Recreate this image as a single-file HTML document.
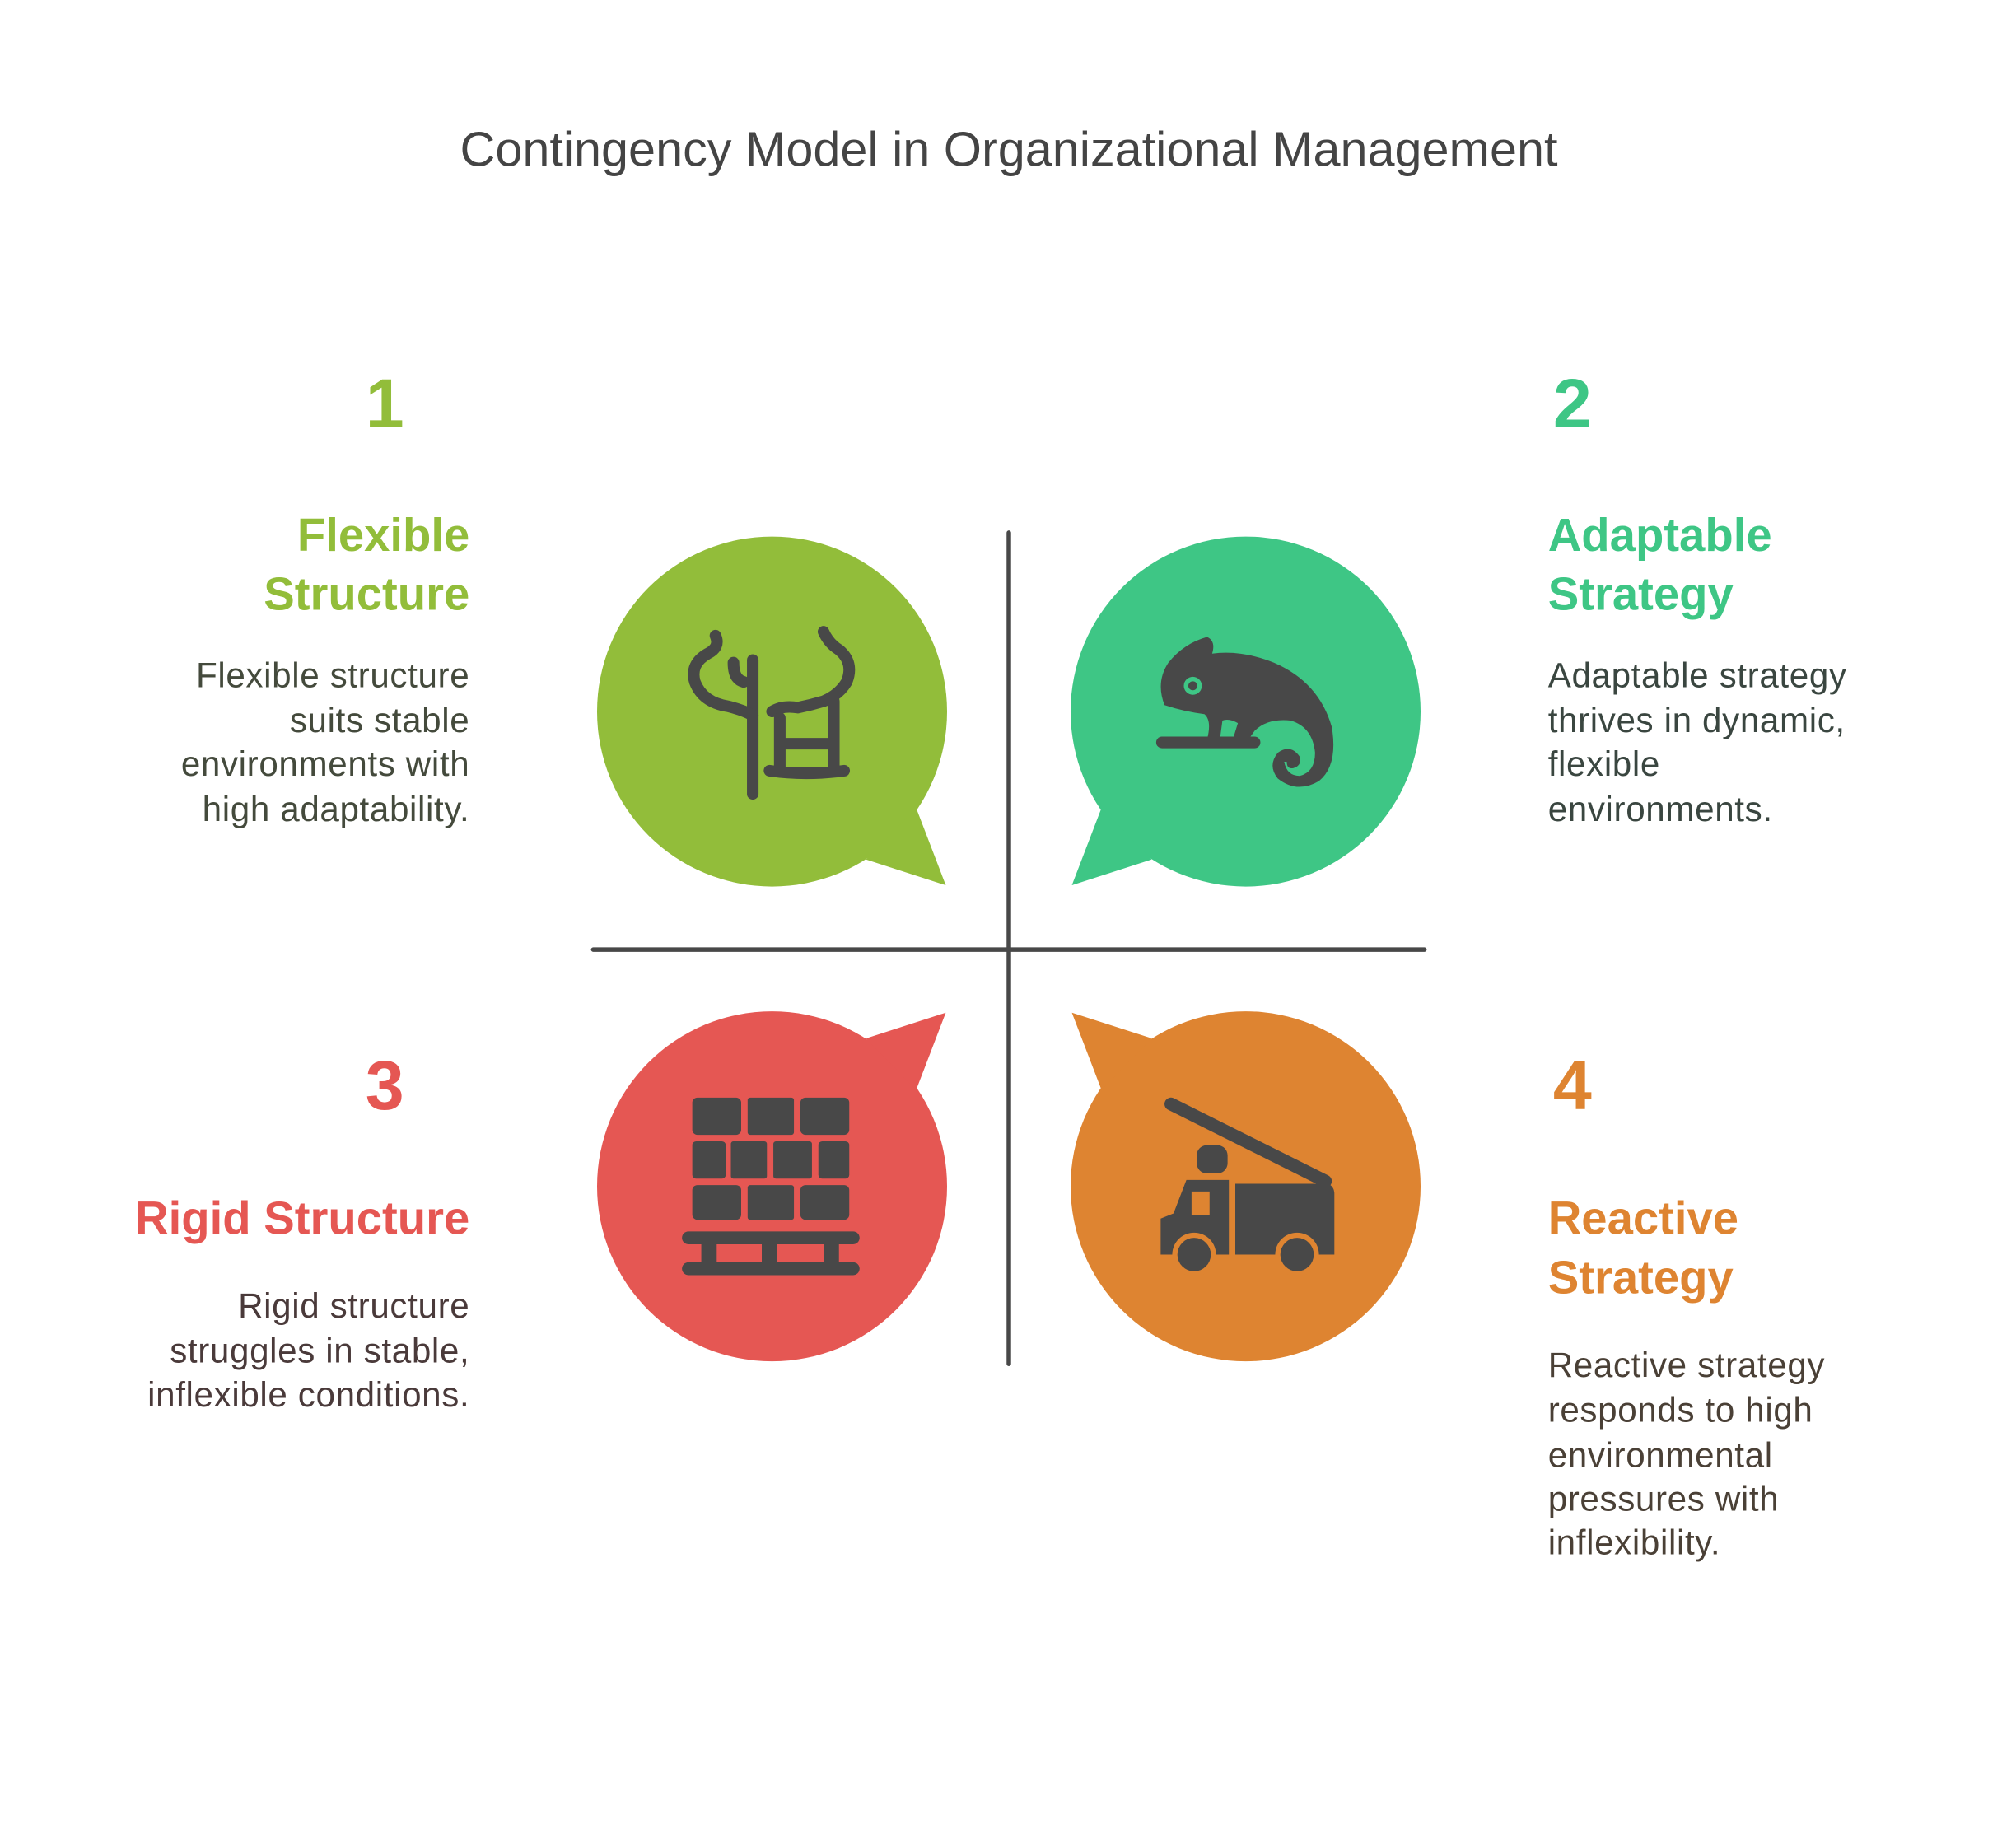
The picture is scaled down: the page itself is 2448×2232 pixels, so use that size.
<!DOCTYPE html>
<html><head><meta charset="utf-8"><style>
html,body{margin:0;padding:0;background:#fff;}
svg{display:block;}
text{font-family:"Liberation Sans",sans-serif;}
</style></head><body>
<svg width="2448" height="2232" viewBox="0 0 1566.72 1428.48" xmlns="http://www.w3.org/2000/svg">
<rect width="1566.72" height="1428.48" fill="#fff"/>
<text x="784" y="129" text-anchor="middle" font-size="38" fill="#444">Contingency Model in Organizational Management</text>

<line x1="784" y1="414" x2="784" y2="1060" stroke="#484848" stroke-width="3.5" stroke-linecap="round"/>
<line x1="461" y1="738" x2="1107" y2="738" stroke="#484848" stroke-width="3.5" stroke-linecap="round"/>

<g fill="#92bd3a"><circle cx="600" cy="553" r="136"/><polygon points="712,628 735,688 673,668"/></g>
<g fill="#3ec685"><circle cx="968" cy="553" r="136"/><polygon points="856,628 833,688 895,668"/></g>
<g fill="#e55753"><circle cx="600" cy="922" r="136"/><polygon points="712,847 735,787 673,807"/></g>
<g fill="#de8431"><circle cx="968" cy="922" r="136"/><polygon points="856,847 833,787 895,807"/></g>

<g stroke="#484848" stroke-width="9" fill="none" stroke-linecap="round" stroke-linejoin="round">
<line x1="585" y1="513" x2="585" y2="617"/>
<path d="M556,494 Q560,503 550,508 Q536,516 540,530 Q546,546 566,549 Q578,552 585,556"/>
<path d="M570,515 Q570,528 578,530"/>
<path d="M640,491 Q644,500 652,505 Q664,515 658,530 Q652,540 640,545 Q630,548 620,550 Q608,548 600,553"/>
<path d="M606,558 L606,598 M648,545 L648,598 M606,578 L645,578"/>
<path d="M598,599 Q626,603 656,599"/>
</g>

<g fill="#484848">
<path d="M905,548 Q898,530 908,515 Q920,500 938,495 Q945,498 942,508 Q965,505 990,515 Q1025,530 1035,565 Q1040,595 1025,607 Q1008,617 993,605 Q985,595 993,585 Q1003,578 1010,588 Q1012,595 1005,597 Q1000,598 1000,592 L998,592 Q1000,603 1010,603 Q1022,600 1022,585 Q1020,565 1003,560 Q985,558 975,568 L970,575 L958,575 L962,562 Q955,558 950,560 L948,575 L938,575 Q942,560 936,555 Q920,553 905,548Z"/>
<line x1="903" y1="577" x2="975" y2="577" stroke="#484848" stroke-width="9" stroke-linecap="round"/>
<circle cx="927" cy="533" r="11"/>
<circle cx="927" cy="533" r="7" fill="#3ec685"/>
<circle cx="927" cy="533" r="3.5" fill="#484848"/>
</g>

<g fill="#484848">
<rect x="538" y="853" width="38" height="29" rx="4"/><rect x="581" y="853" width="36" height="29" rx="2"/><rect x="622" y="853" width="38" height="29" rx="4"/>
<rect x="538" y="887" width="26" height="29" rx="3"/><rect x="568" y="887" width="28" height="29" rx="2"/><rect x="601" y="887" width="30" height="29" rx="2"/><rect x="636" y="887" width="24" height="29" rx="3"/>
<rect x="538" y="921" width="38" height="27" rx="4"/><rect x="581" y="921" width="36" height="27" rx="2"/><rect x="622" y="921" width="38" height="27" rx="4"/>
<rect x="530" y="957" width="138" height="10" rx="5"/><rect x="530" y="981" width="138" height="10" rx="5"/>
<rect x="545" y="965" width="12" height="18"/><rect x="592" y="965" width="12" height="18"/><rect x="640" y="965" width="12" height="18"/>
</g>

<g fill="#484848">
<line x1="910" y1="858" x2="1030" y2="918" stroke="#484848" stroke-width="10" stroke-linecap="round"/>
<rect x="930" y="890" width="24" height="22" rx="8"/>
<path d="M960,920 L1032,920 Q1037,922 1037,928 L1037,975 L960,975Z"/>
<path d="M902,947 L912,943 L922,917 L955,917 L955,975 L902,975Z"/>
<rect x="926" y="926" width="14" height="18" fill="#de8431"/>
<circle cx="928" cy="975" r="17" fill="#de8431"/><circle cx="928" cy="975" r="13"/>
<circle cx="1008" cy="975" r="17" fill="#de8431"/><circle cx="1008" cy="975" r="13"/>
</g>

<g text-anchor="end">
<text x="299" y="332" text-anchor="middle" font-size="54" font-weight="bold" fill="#92bd3a">1</text>
<text x="365" y="428" font-size="36" font-weight="bold" fill="#92bd3a">Flexible</text>
<text x="365" y="474" font-size="36" font-weight="bold" fill="#92bd3a">Structure</text>
<g font-size="27" letter-spacing="0.4" fill="#444a3c">
<text x="365" y="534">Flexible structure</text>
<text x="365" y="569">suits stable</text>
<text x="365" y="603">environments with</text>
<text x="365" y="638">high adaptability.</text>
</g>
<text x="299" y="862" text-anchor="middle" font-size="54" font-weight="bold" fill="#e55753">3</text>
<text x="365" y="959" font-size="36" font-weight="bold" fill="#e55753">Rigid Structure</text>
<g font-size="27" letter-spacing="0.4" fill="#4a3a3a">
<text x="365" y="1024">Rigid structure</text>
<text x="365" y="1059">struggles in stable,</text>
<text x="365" y="1093">inflexible conditions.</text>
</g>
</g>

<text x="1222" y="332" text-anchor="middle" font-size="54" font-weight="bold" fill="#3ec685">2</text>
<text x="1203" y="428" font-size="36" font-weight="bold" fill="#3ec685">Adaptable</text>
<text x="1203" y="474" font-size="36" font-weight="bold" fill="#3ec685">Strategy</text>
<g font-size="27" letter-spacing="0.4" fill="#3a4640">
<text x="1203" y="534">Adaptable strategy</text>
<text x="1203" y="569">thrives in dynamic,</text>
<text x="1203" y="603">flexible</text>
<text x="1203" y="638">environments.</text>
</g>
<text x="1222" y="862" text-anchor="middle" font-size="54" font-weight="bold" fill="#de8431">4</text>
<text x="1203" y="959" font-size="36" font-weight="bold" fill="#de8431">Reactive</text>
<text x="1203" y="1005" font-size="36" font-weight="bold" fill="#de8431">Strategy</text>
<g font-size="27" letter-spacing="0.4" fill="#4a4036">
<text x="1203" y="1070">Reactive strategy</text>
<text x="1203" y="1105">responds to high</text>
<text x="1203" y="1140">environmental</text>
<text x="1203" y="1174">pressures with</text>
<text x="1203" y="1208">inflexibility.</text>
</g>
</svg>
</body></html>
